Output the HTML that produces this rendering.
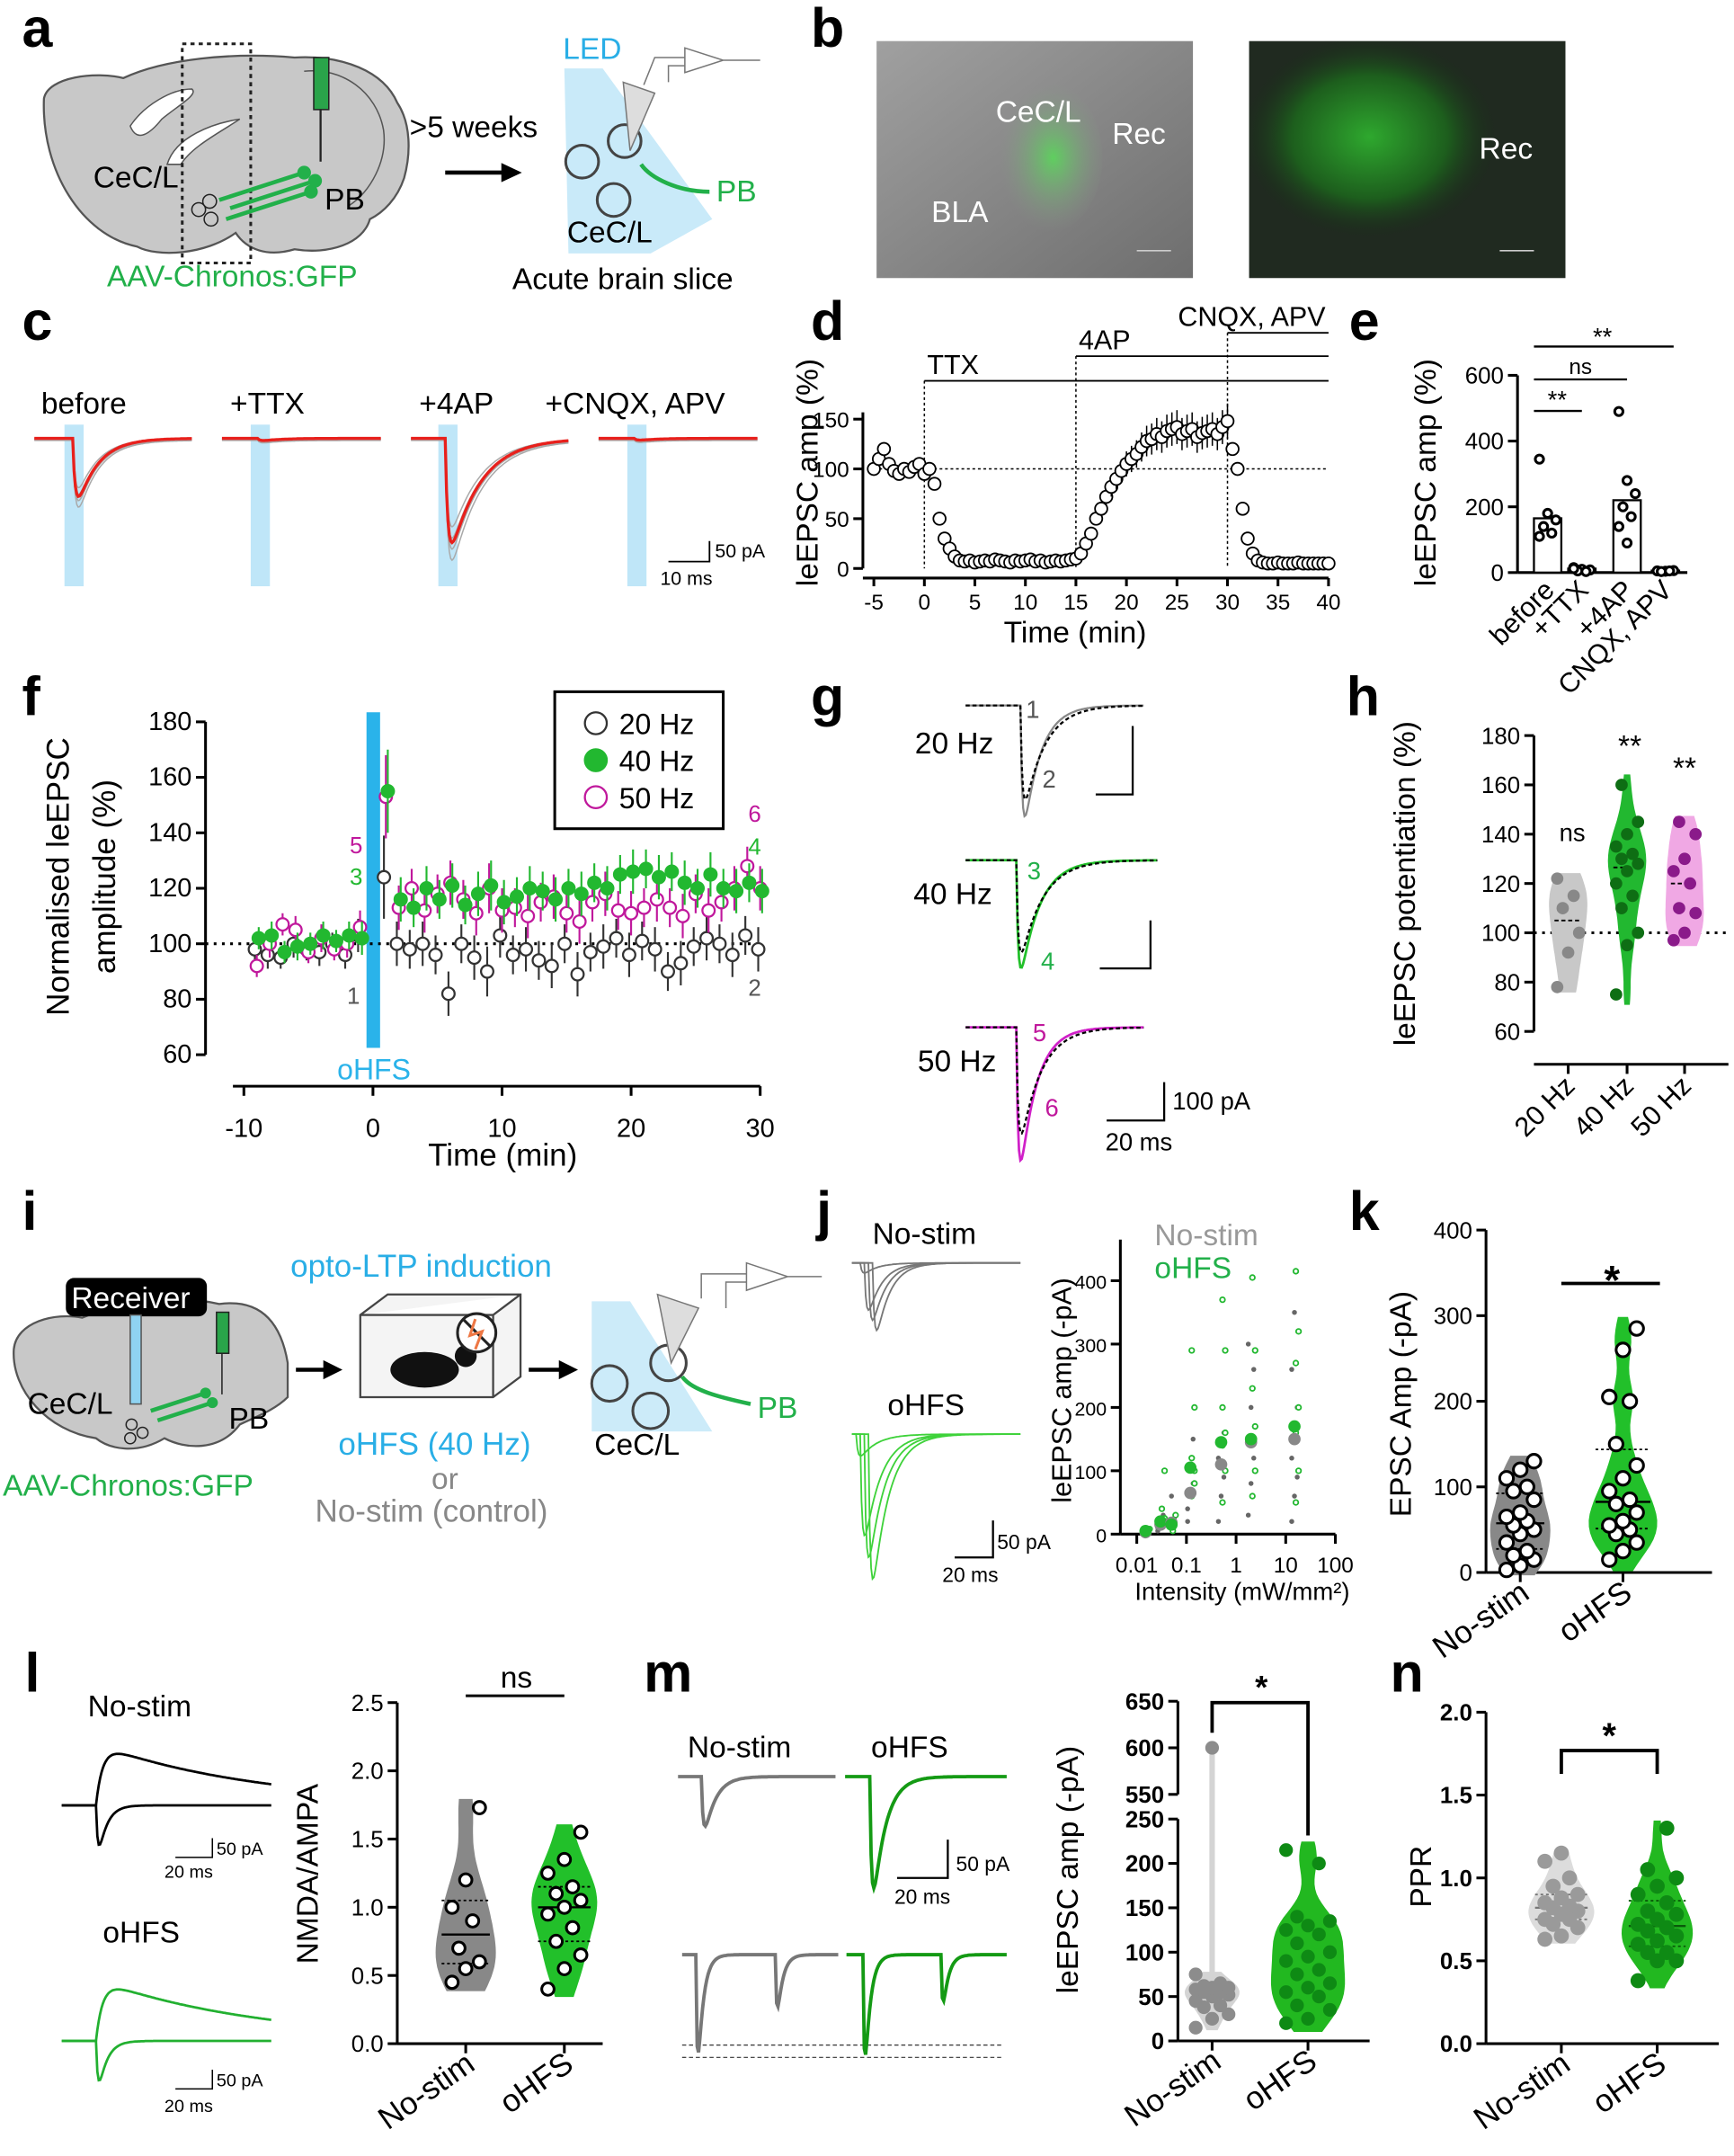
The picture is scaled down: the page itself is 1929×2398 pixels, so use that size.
<!DOCTYPE html>
<html><head><meta charset="utf-8"><style>
html,body{margin:0;padding:0;background:#fff}
svg{display:block;font-family:"Liberation Sans",Arial,sans-serif}
.L{font-size:40px;font-weight:bold}
</style></head><body>
<svg id="fig" width="1929" height="2398" viewBox="0 0 1266 1574" xmlns="http://www.w3.org/2000/svg">
<rect width="1266" height="1574" fill="#fff"/>
<g>
<text class="L" x="16" y="34">a</text><text class="L" x="592" y="34">b</text>
<text class="L" x="16" y="248">c</text><text class="L" x="592" y="248">d</text><text class="L" x="985" y="248">e</text>
<text class="L" x="16" y="522">f</text><text class="L" x="592" y="522">g</text><text class="L" x="983" y="522">h</text>
<text class="L" x="16" y="898">i</text><text class="L" x="596" y="898">j</text><text class="L" x="985" y="898">k</text>
<text class="L" x="18" y="1235">l</text><text class="L" x="470" y="1235">m</text><text class="L" x="1015" y="1235">n</text>
</g>
<g>
<path d="M32,72 C35,56 70,52 90,57 C120,43 170,38 215,42 C250,40 280,52 290,75 C300,90 300,112 295,130 C290,145 280,155 270,160 C265,178 240,186 215,182 C195,188 180,182 172,170 C150,186 115,188 100,180 C60,172 30,125 32,72Z" fill="#c8c8c8" stroke="#555" stroke-width="1.5"/>
<path d="M95,92 C105,77 125,65 140,65 C145,69 130,77 118,87 C110,97 100,105 95,92Z" fill="#fff" stroke="#555"/>
<path d="M122,120 C128,100 155,90 175,87 C160,97 140,107 132,120Z" fill="#fff" stroke="#555"/>
<path d="M222,52 C250,49 275,67 280,95 C283,118 270,140 255,150" fill="none" stroke="#555"/>
<rect x="133" y="32" width="50" height="160" fill="none" stroke="#222" stroke-width="2" stroke-dasharray="3,3"/>
<rect x="229" y="42" width="11" height="38" fill="#2aa44a" stroke="#222"/>
<line x1="234" y1="80" x2="234" y2="118" stroke="#222" stroke-width="1.5"/>
<line x1="160" y1="146" x2="222" y2="126" stroke="#22b04a" stroke-width="3"/>
<line x1="168" y1="152" x2="230" y2="132" stroke="#22b04a" stroke-width="3"/>
<line x1="165" y1="160" x2="227" y2="140" stroke="#22b04a" stroke-width="3"/>
<circle cx="222" cy="126" r="5" fill="#22b04a"/><circle cx="230" cy="132" r="5" fill="#22b04a"/><circle cx="227" cy="140" r="5" fill="#22b04a"/>
<circle cx="145" cy="153" r="5" fill="none" stroke="#222"/><circle cx="153" cy="147" r="5" fill="none" stroke="#222"/><circle cx="154" cy="160" r="5" fill="none" stroke="#222"/>
<text x="68" y="137" font-size="22">CeC/L</text><text x="237" y="153" font-size="22">PB</text>
<text x="78" y="209" font-size="22" fill="#22b04a">AAV-Chronos:GFP</text>
<text x="299" y="100" font-size="22">&gt;5 weeks</text>
<line x1="325" y1="126" x2="368" y2="126" stroke="#000" stroke-width="3"/><path d="M366,119 L381,126 L366,133Z" fill="#000"/>
<text x="411" y="43" font-size="22" fill="#29aee6">LED</text>
<path d="M412,50 L440,50 L520,160 L475,185 L415,185Z" fill="#bfe6f8" opacity="0.85"/>
<circle cx="425" cy="118" r="12" fill="none" stroke="#444" stroke-width="2"/><circle cx="456" cy="103" r="12" fill="none" stroke="#444" stroke-width="2"/><circle cx="448" cy="146" r="12" fill="none" stroke="#444" stroke-width="2"/>
<path d="M455,60 L478,68 L460,110Z" fill="#ddd" stroke="#777"/>
<path d="M470,62 L478,42 L500,42 M500,35 L528,44 L500,53Z M528,44 L555,44 M500,48 L488,48 L488,60" fill="none" stroke="#777"/>
<path d="M518,140 C495,140 475,130 468,120" fill="none" stroke="#22b04a" stroke-width="3"/>
<text x="523" y="147" font-size="22" fill="#22b04a">PB</text>
<text x="414" y="177" font-size="22">CeC/L</text>
<text x="374" y="211" font-size="22">Acute brain slice</text>
</g>
<g>
<defs>
<radialGradient id="g1" cx="0.55" cy="0.5" r="0.5"><stop offset="0" stop-color="#5fcf5f"/><stop offset="1" stop-color="#8a948a" stop-opacity="0"/></radialGradient>
<radialGradient id="g2" cx="0.5" cy="0.5" r="0.5"><stop offset="0" stop-color="#2ea82e"/><stop offset="0.6" stop-color="#1d5e1d"/><stop offset="1" stop-color="#1a2a1a" stop-opacity="0"/></radialGradient>
<linearGradient id="gb" x1="0" y1="0" x2="1" y2="1"><stop offset="0" stop-color="#a0a0a0"/><stop offset="1" stop-color="#6e6e6e"/></linearGradient>
<clipPath id="cb2"><rect x="912" y="30" width="231" height="173"/></clipPath>
</defs>
<rect x="640" y="30" width="231" height="173" fill="url(#gb)"/>
<ellipse cx="765" cy="115" rx="40" ry="55" fill="url(#g1)"/>
<text x="727" y="89" font-size="22" fill="#fff">CeC/L</text><text x="812" y="105" font-size="22" fill="#fff">Rec</text><text x="680" y="162" font-size="22" fill="#fff">BLA</text>
<line x1="830" y1="183" x2="855" y2="183" stroke="#ccc"/>
<rect x="912" y="30" width="231" height="173" fill="#202a20"/>
<ellipse cx="1000" cy="100" rx="95" ry="75" fill="url(#g2)" clip-path="url(#cb2)"/>
<text x="1080" y="116" font-size="22" fill="#fff">Rec</text>
<line x1="1095" y1="183" x2="1120" y2="183" stroke="#ccc"/>
</g>
<g id="pc">
<rect x="47" y="310" width="14" height="118" fill="#bfe6f8"/><rect x="183" y="310" width="14" height="118" fill="#bfe6f8"/>
<rect x="320" y="310" width="14" height="118" fill="#bfe6f8"/><rect x="458" y="310" width="14" height="118" fill="#bfe6f8"/>
<text x="30" y="302" font-size="22">before</text><text x="168" y="302" font-size="22">+TTX</text><text x="306" y="302" font-size="22">+4AP</text><text x="398" y="302" font-size="22">+CNQX, APV</text>
<path d="M488,410 L518,410 L518,395" fill="none" stroke="#000" stroke-width="1.2"/>
<text x="522" y="407" font-size="14">50 pA</text><text x="482" y="427" font-size="14">10 ms</text>
</g>
<g id="pg">
<text x="668" y="550" font-size="22">20 Hz</text><text x="667" y="660" font-size="22">40 Hz</text><text x="670" y="782" font-size="22">50 Hz</text>
<text x="749" y="524" font-size="18" fill="#555">1</text><text x="761" y="575" font-size="18" fill="#555">2</text>
<text x="750" y="642" font-size="18" fill="#22b04a">3</text><text x="760" y="708" font-size="18" fill="#22b04a">4</text>
<text x="754" y="760" font-size="18" fill="#c0189c">5</text><text x="763" y="815" font-size="18" fill="#c0189c">6</text>
<path d="M800,580 L827,580 L827,530" fill="none" stroke="#000" stroke-width="1.5"/>
<path d="M803,707 L840,707 L840,672" fill="none" stroke="#000" stroke-width="1.5"/>
<path d="M808,818 L850,818 L850,790" fill="none" stroke="#000" stroke-width="1.5"/>
<text x="856" y="810" font-size="18">100 pA</text><text x="807" y="840" font-size="18">20 ms</text>
</g>
<g>
<path d="M10,985 C12,965 40,958 60,962 C90,950 130,945 160,952 C190,948 205,965 210,995 L210,1020 C200,1030 185,1035 175,1040 C160,1060 135,1058 120,1050 C100,1062 80,1058 70,1050 C35,1045 8,1015 10,985Z" fill="#c8c8c8" stroke="#555" stroke-width="1.5"/>
<rect x="48" y="933" width="103" height="28" rx="6" fill="#000"/><text x="52" y="955" font-size="22" fill="#fff">Receiver</text>
<rect x="95" y="960" width="8" height="65" fill="#8fd3f2" stroke="#555"/>
<rect x="158" y="958" width="9" height="30" fill="#2aa44a" stroke="#222"/><line x1="162" y1="988" x2="162" y2="1018" stroke="#222"/>
<line x1="110" y1="1030" x2="150" y2="1017" stroke="#22b04a" stroke-width="3"/><line x1="115" y1="1037" x2="155" y2="1024" stroke="#22b04a" stroke-width="3"/>
<circle cx="150" cy="1017" r="4" fill="#22b04a"/><circle cx="155" cy="1024" r="4" fill="#22b04a"/>
<circle cx="96" cy="1040" r="4" fill="none" stroke="#222"/><circle cx="104" cy="1046" r="4" fill="none" stroke="#222"/><circle cx="95" cy="1050" r="4" fill="none" stroke="#222"/>
<text x="20" y="1032" font-size="22">CeC/L</text><text x="167" y="1043" font-size="22">PB</text>
<text x="2" y="1092" font-size="22" fill="#22b04a">AAV-Chronos:GFP</text>
<line x1="216" y1="1000" x2="238" y2="1000" stroke="#000" stroke-width="3"/><path d="M236,993 L250,1000 L236,1007Z" fill="#000"/>
<text x="212" y="932" font-size="23" fill="#29aee6">opto-LTP induction</text>
<path d="M263,960 L283,945 L380,945 L380,1005 L360,1020 L263,1020Z M263,960 L360,960 L380,945 M360,960 L360,1020" fill="#f4f4f4" stroke="#444" stroke-width="1.5"/>
<ellipse cx="310" cy="1000" rx="25" ry="13" fill="#111"/><circle cx="340" cy="990" r="8" fill="#111"/>
<circle cx="348" cy="973" r="14" fill="#fff" stroke="#222" stroke-width="2"/><line x1="338" y1="963" x2="358" y2="983" stroke="#222" stroke-width="2"/><path d="M347,963 L343,975 L352,972 L347,985" fill="none" stroke="#e74" stroke-width="2"/>
<text x="247" y="1062" font-size="23" fill="#29aee6">oHFS (40 Hz)</text><text x="315" y="1087" font-size="22" fill="#888">or</text>
<text x="230" y="1111" font-size="23" fill="#888">No-stim (control)</text>
<line x1="386" y1="1000" x2="410" y2="1000" stroke="#000" stroke-width="3"/><path d="M408,993 L422,1000 L408,1007Z" fill="#000"/>
<path d="M432,950 L460,950 L520,1045 L432,1045Z" fill="#bfe6f8" opacity="0.8"/>
<circle cx="445" cy="1010" r="13" fill="none" stroke="#444" stroke-width="2"/><circle cx="488" cy="995" r="13" fill="none" stroke="#444" stroke-width="2"/><circle cx="475" cy="1030" r="13" fill="none" stroke="#444" stroke-width="2"/>
<path d="M480,945 L510,955 L490,995Z" fill="#ddd" stroke="#777"/>
<path d="M512,948 L512,930 L545,930 M545,922 L575,932 L545,942Z M575,932 L600,932 M545,936 L530,936 L530,955" fill="none" stroke="#777"/>
<path d="M548,1025 C525,1020 505,1015 498,1005" fill="none" stroke="#22b04a" stroke-width="3"/>
<text x="553" y="1035" font-size="22" fill="#22b04a">PB</text><text x="434" y="1062" font-size="22">CeC/L</text>
</g>
<g id="pj">
<text x="637" y="908" font-size="22">No-stim</text><text x="648" y="1033" font-size="22">oHFS</text>
<path d="M697,1137 L725,1137 L725,1110" fill="none" stroke="#000" stroke-width="1.5"/>
<text x="728" y="1131" font-size="15">50 pA</text><text x="688" y="1155" font-size="15">20 ms</text>
<text x="843" y="909" font-size="22" fill="#999">No-stim</text><text x="843" y="933" font-size="22" fill="#22b04a">oHFS</text>
</g>
<g id="pl">
<text x="64" y="1253" font-size="22">No-stim</text><text x="75" y="1418" font-size="22">oHFS</text>
<path d="M128,1356 L155,1356 L155,1342" fill="none" stroke="#000"/><text x="158" y="1354" font-size="13">50 pA</text><text x="120" y="1371" font-size="13">20 ms</text>
<path d="M128,1525 L155,1525 L155,1511" fill="none" stroke="#000"/><text x="158" y="1523" font-size="13">50 pA</text><text x="120" y="1542" font-size="13">20 ms</text>
</g>
<g id="pm">
<text x="502" y="1283" font-size="22">No-stim</text><text x="636" y="1283" font-size="22">oHFS</text>
<path d="M655,1371 L692,1371 L692,1343" fill="none" stroke="#000" stroke-width="1.5"/>
<text x="698" y="1366" font-size="15">50 pA</text><text x="653" y="1390" font-size="15">20 ms</text>
<line x1="498" y1="1493" x2="733" y2="1493" stroke="#333" stroke-dasharray="3,2" stroke-width="0.8"/>
<line x1="498" y1="1502" x2="733" y2="1502" stroke="#333" stroke-dasharray="3,2" stroke-width="0.8"/>
</g>
<g id="charts"></g>
</svg>
<script>
const dValues=[100,110,120,105,98,95,100,97,102,105,95,100,85,50,30,20,12,
8,7,8,6,7,8,7,9,8,7,6,8,7,8,9,7,8,6,7,8,7,8,9,
10,15,25,35,50,60,72,82,90,98,105,110,115,122,128,130,135,132,138,140,142,135,138,140,132,136,138,140,135,142,148,120,100,60,30,15,8,
6,5,5,6,5,5,5,6,5,5,5,5,5,5];
const dStart=-5, dStep=0.5;
const dTicksX=[-5,0,5,10,15,20,25,30,35,40];
const dTicksY=[0,50,100,150];
const eCats=["before","+TTX","+4AP","CNQX, APV"];
const eMeans=[165,12,220,6];
const ePoints=[[345,180,160,140,120,110],[15,10,8,5,3,12],[490,280,240,200,170,140,90],[5,4,6,3,5]];
const eTicks=[0,200,400,600];
const fTimes=[-9,-8,-7,-6,-5,-4,-3,-2,-1,1,2,3,4,5,6,7,8,9,10,11,12,13,14,15,16,17,18,19,20,21,22,23,24,25,26,27,28,29,30];
const f20=[98,96,95,100,98,97,100,96,103,124,100,98,100,96,82,100,95,90,103,96,98,94,92,100,89,97,99,102,96,101,98,90,93,99,102,100,96,103,98];
const f40=[102,103,97,99,100,103,101,103,102,155,116,113,120,116,121,114,118,121,115,117,120,119,116,120,118,122,120,125,126,127,124,126,122,120,125,120,119,122,119];
const f50=[92,100,107,105,97,102,98,100,106,153,113,120,112,118,122,116,111,120,112,113,110,115,117,111,108,115,118,112,111,113,116,113,110,118,112,115,120,128,120];
const fErr=[4,5,4,5,4,5,4,5,6,15,8,7,8,7,8,7,8,9,8,7,8,7,8,7,8,7,8,7,8,7,8,7,8,7,8,7,8,7,8];
const fTicksX=[-10,0,10,20,30];
const fTicksY=[60,80,100,120,140,160,180];
const hCats=["20 Hz","40 Hz","50 Hz"];
const h20=[78,92,100,110,115,122];
const h40=[75,95,100,110,115,120,125,128,130,132,135,140,145,160];
const h50=[97,100,108,110,120,125,130,140,145];
const hTicks=[60,80,100,120,140,160,180];
const jIntens=[0.015,0.03,0.05,0.12,0.5,2,15];
const jGray=[[3,5,2],[10,20,30,5],[15,60,25],[40,60,80,20,100,150],[20,60,90,120,140,160,110],[30,80,120,150,200,260,300,140],[20,60,90,120,150,200,260,350]];
const jGreen=[[5,8,2],[15,25,40,100],[10,30,5],[60,100,120,200,290,80],[50,100,140,160,200,290,370],[60,100,150,170,230,290,405],[50,100,160,200,270,320,415]];
const jGrayMean=[3,15,18,65,110,145,150];
const jGreenMean=[5,20,15,105,145,150,170];
const kNo=[3,8,15,20,25,35,45,50,55,60,65,70,85,95,100,110,120,130];
const kO=[15,25,35,45,50,55,60,70,80,85,95,110,125,150,200,205,260,285];
const kTicks=[0,100,200,300,400];
const lNo=[0.45,0.55,0.6,0.7,0.9,1.0,1.2,1.73];
const lO=[0.4,0.55,0.65,0.75,0.85,0.95,1.0,1.05,1.1,1.15,1.25,1.35,1.55];
const lTicks=[0.0,0.5,1.0,1.5,2.0,2.5];
const mNo=[15,25,30,38,40,45,50,52,55,55,58,60,60,62,65,75,600];
const mO=[20,25,35,40,50,55,60,65,75,80,90,95,100,110,120,125,130,135,140,200,215];
const mTicksLow=[0,50,100,150,200,250];
const mTicksHigh=[550,600,650];
const nNo=[0.63,0.65,0.7,0.72,0.75,0.75,0.78,0.8,0.82,0.83,0.85,0.88,0.9,0.95,1.0,1.1,1.15];
const nO=[0.38,0.5,0.5,0.55,0.55,0.6,0.62,0.65,0.68,0.7,0.72,0.75,0.78,0.8,0.85,0.9,0.95,1.0,1.05,1.3];
const nTicks=[0.0,0.5,1.0,1.5,2.0];

const NS="http://www.w3.org/2000/svg";
const root=document.getElementById('charts');
function mk(tag,attrs,parent){const e=document.createElementNS(NS,tag);for(const k in attrs)e.setAttribute(k,attrs[k]);(parent||root).appendChild(e);return e;}
function txt(s,x,y,size,anchor,parent,rot,fill,weight){const t=mk('text',{x:x,y:y,'font-size':size,'text-anchor':anchor||'start',fill:fill||'#000'},parent);if(weight)t.setAttribute('font-weight',weight);if(rot)t.setAttribute('transform','rotate('+rot+' '+x+' '+y+')');t.textContent=s;return t;}
function line(x1,y1,x2,y2,parent,w,col,dash){const l=mk('line',{x1,y1,x2,y2,stroke:col||'#000','stroke-width':w||2},parent);if(dash)l.setAttribute('stroke-dasharray',dash);return l;}
function lin(d0,d1,p0,p1){return v=>p0+(v-d0)*(p1-p0)/(d1-d0);}
function yAxis(g,x,y0,y1,ticks,sc,size,fmt){const a=line(x,y0,x,y1,g,2);
 ticks.forEach(t=>{line(x-7,sc(t),x,sc(t),g,2);const l=txt(fmt?fmt(t):String(t),x-10,sc(t)+6,size||17,'end',g);});}
function trace(x0,x1,y0,xd,amp,rise,decay){let d='';for(let x=x0;x<=x1;x+=1){let y=y0;if(x>xd){const t=x-xd;y=y0+amp*(1-Math.exp(-t/rise))*Math.exp(-t/decay)*1.6;}d+=(d?'L':'M')+x+','+y.toFixed(1);}return d;}
function path(d,parent,col,w,dash){const p=mk('path',{d:d,fill:'none',stroke:col,'stroke-width':w||1.5},parent);if(dash)p.setAttribute('stroke-dasharray',dash);return p;}
function violin(g,vals,cx,sc,hw,fill,stroke,bw){const lo=Math.min(...vals),hi=Math.max(...vals);const ext=(hi-lo)*0.05;const N=40;const pts=[];let maxd=0;
 for(let i=0;i<=N;i++){const v=lo-ext+(hi-lo+2*ext)*i/N;let dsum=0;vals.forEach(u=>{dsum+=Math.exp(-0.5*((v-u)/bw)**2);});pts.push([v,dsum]);if(dsum>maxd)maxd=dsum;}
 let d='';pts.forEach(p=>{d+=(d?'L':'M')+(cx+hw*p[1]/maxd).toFixed(1)+','+sc(p[0]).toFixed(1);});
 for(let i=pts.length-1;i>=0;i--){d+='L'+(cx-hw*pts[i][1]/maxd).toFixed(1)+','+sc(pts[i][0]).toFixed(1);}
 const p=mk('path',{d:d+'Z',fill:fill,stroke:stroke||'none','stroke-width':1},g);return p;}
function quart(vals,q){const s=[...vals].sort((a,b)=>a-b);const i=(s.length-1)*q;const l=Math.floor(i);return s[l]+(s[Math.ceil(i)]-s[l])*(i-l);}
function jitterDots(g,vals,cx,sc,r,fill,stroke,spread){vals.forEach((v,i)=>{const off=((i*7)%5-2)*spread;const c=mk('circle',{cx:cx+off,cy:sc(v),r:r,fill:fill,stroke:stroke||'none','stroke-width':2},g);});}

(function(){const g=document.getElementById('pc');const grp=[[25,140,50,40],[162,278,185,1.5],[300,415,322,65],[437,553,460,1.2]];
 grp.forEach((p,k)=>{for(let j=0;j<4;j++)path(trace(p[0],p[1],320+j*0.5,p[2]+3,p[3]*(0.85+0.1*j),2,k==2?22:15),g,'#aaa',1);path(trace(p[0],p[1],320,p[2]+3,p[3],2,k==2?22:15),g,'#e8201c',2.2);});})();
(function(){const g=document.getElementById('pg');
 path(trace(705,835,515,745,75,1.5,12),g,'#888',1.5);path(trace(705,835,515,745,60,1.5,15),g,'#000',1.5,'3,2');
 path(trace(705,845,628,742,70,1.5,14),g,'#22c02a',1.8);path(trace(705,845,628,742,58,1.5,16),g,'#000',1.5,'3,2');
 path(trace(705,835,750,742,90,1.5,12),g,'#d020c8',1.8);path(trace(705,835,750,742,68,1.5,15),g,'#000',1.5,'3,2');})();
(function(){const g=document.getElementById('pj');[0.15,0.7,0.85,1].forEach((a,i)=>path(trace(622,745,922,628+i*3,48*a,1.5,10),g,'#777',1.2));
 [0.15,0.7,0.85,1].forEach((a,i)=>path(trace(622,745,1047,625+i*3,98*a,1.5,12),g,'#3ed23a',1.2));})();
(function(){const g=document.getElementById('pl');
 function nm(y0,col){path(trace(45,198,y0,70,-28,5,120),g,col,1.8);path(trace(45,198,y0,70,34,1.5,6),g,col,1.8);}
 nm(1318,'#000');nm(1490,'#22b030');})();
(function(){const g=document.getElementById('pm');
 path(trace(495,610,1297,512,38,1.5,8),g,'#777',2.5);path(trace(617,735,1297,635,82,1.5,9),g,'#149a14',2.5);
 let d=trace(498,560,1427,508,85,1,4)+trace(560,612,1427,566,45,1,4).replace('M','L');path(d,g,'#777',2.5);
 d=trace(618,683,1427,630,87,1,4)+trace(683,735,1427,687,40,1,4).replace('M','L');path(d,g,'#149a14',2.5);})();

(function(){const g=mk('g',{});
 const X=lin(-5,40,638,970),Y=lin(0,150,415,306);
 yAxis(g,630,306-5,415,dTicksY,Y,16);line(630,422,970,422,g,2);
 dTicksX.forEach(t=>{line(X(t),422,X(t),428,g,2);const l=txt(String(t),X(t),445,16,'middle',g);});
 const xt=txt('Time (min)',785,469,22,'middle',g);
 const yt=txt('leEPSC amp (%)',597,345,22,'middle',g,-90);
 line(638,Y(100),970,Y(100),g,1,'#000','2,2');
 line(X(0),278,970,278,g,1.2);line(X(0),278,X(0),415,g,1,'#000','2,2');txt('TTX',X(0)+2,273,20,'start',g);
 line(X(15),260,970,260,g,1.2);line(X(15),260,X(15),415,g,1,'#000','2,2');txt('4AP',X(15)+2,255,20,'start',g);
 line(X(30),243,970,243,g,1.2);line(X(30),243,X(30),415,g,1,'#000','2,2');txt('CNQX, APV',860,238,20,'start',g);
 dValues.forEach((v,i)=>{const t=dStart+i*dStep;if(t>=15&&t<=30){line(X(t),Y(v+v*0.12),X(t),Y(v-v*0.12),g,1);}
  const c=mk('circle',{cx:X(t),cy:Y(v),r:4.5,fill:'#fff',stroke:'#000','stroke-width':1.2},g);});})();

(function(){const g=mk('g',{});
 const Y=lin(0,600,418,274);const xs=[1130,1155,1188,1216];
 yAxis(g,1108,274,418,eTicks,Y,17);line(1108,418,1232,418,g,2);
 const yt=txt('leEPSC amp (%)',1048,345,22,'middle',g,-90);
 eMeans.forEach((m,i)=>{const b=mk('rect',{x:xs[i]-10,y:Y(m),width:20,height:418-Y(m),fill:'#fff',stroke:'#000','stroke-width':1.5},g);
  jitterDots(g,ePoints[i],xs[i],Y,3,'#fff','#000',3);
  const l=txt(eCats[i],xs[i]+6,432,20,'end',g,-45);});
 line(1120,253,1222,253,g,1.5);txt('**',1170,252,18,'middle',g);
 line(1120,277,1188,277,g,1.5);txt('ns',1154,273,16,'middle',g);
 line(1120,300,1155,300,g,1.5);txt('**',1137,298,18,'middle',g);})();

(function(){const g=mk('g',{});
 const X=lin(-10,30,178,555),Y=lin(60,180,770,527);
 mk('rect',{x:X(-0.5),y:520,width:X(0.5)-X(-0.5)+0.5,height:245,fill:'#2ab3ea'},g);
 yAxis(g,150,527,770,fTicksY,Y,19);line(170,793,555,793,g,2);
 fTicksX.forEach(t=>{line(X(t),793,X(t),800,g,2);const l=txt(String(t),X(t),830,19,'middle',g);});
 txt('Time (min)',367,851,23,'middle',g);
 txt('Normalised leEPSC',50,640,23,'middle',g,-90);txt('amplitude (%)',84,640,23,'middle',g,-90);
 line(150,Y(100),555,Y(100),g,2,'#000','2,4');
 txt('oHFS',273,788,21,'middle',g,0,'#2ab3ea');
 const ser=[[f20,'#fff','#333'],[f50,'#fff','#c0189c'],[f40,'#22b830','#22b830']];
 ser.forEach((s,k)=>{s[0].forEach((v,i)=>{const t=fTimes[i]+(k-1)*0.15;line(X(t),Y(v+fErr[i]),X(t),Y(v-fErr[i]),g,1.4,s[2]);
  const c=mk('circle',{cx:X(t),cy:Y(v),r:4.5,fill:s[1],stroke:s[2],'stroke-width':1.5},g);});});
 txt('5',260,623,17,'middle',g,0,'#c0189c');txt('3',260,646,17,'middle',g,0,'#22b830');txt('1',258,733,17,'middle',g,0,'#555');
 txt('6',551,600,17,'middle',g,0,'#c0189c');txt('4',551,624,17,'middle',g,0,'#22b830');txt('2',551,727,17,'middle',g,0,'#555');
 const lg=mk('g',{},g);
 mk('rect',{x:405,y:505,width:123,height:100,fill:'#fff',stroke:'#000','stroke-width':2},lg);
 [['20 Hz','#fff','#333'],['40 Hz','#22b830','#22b830'],['50 Hz','#fff','#c0189c']].forEach((e,i)=>{const c=mk('circle',{cx:435,cy:528+i*27,r:8,fill:e[1],stroke:e[2],'stroke-width':1.5},lg);txt(e[0],452,536+i*27,21,'start',lg);});})();

(function(){const g=mk('g',{});
 const Y=lin(60,180,753,537);const xs=[1145,1188,1230];
 yAxis(g,1120,537,753,hTicks,Y,17);line(1120,777,1262,777,g,2);line(1120,Y(100),1262,Y(100),g,2,'#000','2,4');
 txt('leEPSC potentiation (%)',1033,645,22,'middle',g,-90);
 const vs=[[h20,'#c8c8c8','#888'],[h40,'#22b830','#0e6e14'],[h50,'#f0a8e4','#8a1a8a']];
 vs.forEach((v,i)=>{violin(g,v[0],xs[i],Y,14,v[1],null,9);line(xs[i]-10,Y(quart(v[0],0.5)),xs[i]+10,Y(quart(v[0],0.5)),g,1.2,'#000','3,2');
  jitterDots(g,v[0],xs[i],Y,4.5,v[2],null,4);line(xs[i],777,xs[i],784,g,2);
  txt(hCats[i],xs[i]+6,794,20,'end',g,-45);});
 txt('ns',1148,614,18,'middle',g);txt('**',1190,552,22,'middle',g);txt('**',1230,568,22,'middle',g);})();

(function(){const g=mk('g',{});
 const X=v=>lin(-2,2,830,975)(Math.log10(v)),Y=lin(0,400,1120,935);
 yAxis(g,818,905,1120,[0,100,200,300,400],Y,14);line(818,1120,975,1120,g,2);
 [0.01,0.1,1,10,100].forEach(t=>{line(X(t),1120,X(t),1127,g,2);const l=txt(String(t),X(t),1148,16,'middle',g);});
 txt('Intensity (mW/mm²)',907,1168,18,'middle',g);txt('leEPSC amp (-pA)',782,1015,20,'middle',g,-90);
 jIntens.forEach((I,i)=>{const x=X(I);jGray[i].forEach((v,k)=>{const c=mk('circle',{cx:x-2+(k%3)*2,cy:Y(v),r:1.8,fill:'#666'},g);});
  jGreen[i].forEach((v,k)=>{const c=mk('circle',{cx:x+1+(k%2)*2,cy:Y(v),r:1.8,fill:'#fff',stroke:'#22b830','stroke-width':1.2},g);});
  const a=mk('circle',{cx:x,cy:Y(jGrayMean[i]),r:4.5,fill:'#888'},g);
  const b=mk('circle',{cx:x,cy:Y(jGreenMean[i]),r:4.5,fill:'#22b830'},g);});})();

function vpanel(name,axX,axRight,xs,Y,ticks,yTop,yBot,data,ylab,ylabX,ylabY,fmt,fs){const g=mk('g',{});
 yAxis(g,axX,yTop,yBot,ticks,Y,fs||17,fmt);line(axX,yBot,axRight,yBot,g,2);
 txt(ylab,ylabX,ylabY,22,'middle',g,-90);
 data.forEach((d,i)=>{violin(g,d.v,xs[i],Y,d.hw,d.fill,null,d.bw);
  [0.25,0.5,0.75].forEach(q=>line(xs[i]-d.hw*0.8,Y(quart(d.v,q)),xs[i]+d.hw*0.8,Y(quart(d.v,q)),g,q==0.5?1.5:1.2,d.ql,q==0.5?null:'2,2'));
  jitterDots(g,d.v,xs[i],Y,d.r,d.pf,d.ps,d.sp);line(xs[i],yBot,xs[i],yBot+7,g,2);
  txt(['No-stim','oHFS'][i],xs[i]+8,yBot+18,23,'end',g,-35);});return g;}
(function(){const Y=lin(0,400,1148,898);const g=vpanel('panel-k-chart',1085,1250,[1110,1185],Y,kTicks,898,1148,
 [{v:kNo,fill:'#888',hw:22,bw:20,ql:'#000',r:5,pf:'#fff',ps:'#000',sp:5},{v:kO,fill:'#22c02a',hw:25,bw:22,ql:'#000',r:5,pf:'#fff',ps:'#000',sp:5}],'EPSC Amp (-pA)',1030,1025);
 line(1140,937,1212,937,g,2.5);txt('*',1177,945,30,'middle',g,0,'#000','bold');})();
(function(){const Y=lin(0,2.5,1492,1243);const g=vpanel('panel-l-chart',290,440,[340,412],Y,lTicks,1243,1492,
 [{v:lNo,fill:'#888',hw:22,bw:0.22,ql:'#000',r:4.5,pf:'#fff',ps:'#000',sp:5},{v:lO,fill:'#22c02a',hw:24,bw:0.18,ql:'#000',r:4.5,pf:'#fff',ps:'#000',sp:6}],'NMDA/AMPA',232,1368,t=>t.toFixed(1));
 line(340,1238,412,1238,g,2);txt('ns',377,1232,22,'middle',g);})();
(function(){const low=lin(0,250,1490,1328),high=lin(550,650,1310,1242);const Y=v=>v>400?high(v):low(v);
 const g=mk('g',{});
 line(860,1242,860,1310,g,2);line(860,1328,860,1490,g,2);line(860,1490,1000,1490,g,2);
 mTicksLow.forEach(t=>{line(853,low(t),860,low(t),g,2);txt(String(t),850,low(t)+6,17,'end',g,0,'#000','bold');});
 mTicksHigh.forEach(t=>{line(853,high(t),860,high(t),g,2);txt(String(t),850,high(t)+6,17,'end',g,0,'#000','bold');});
 txt('leEPSC amp (-pA)',787,1365,22,'middle',g,-90);
 const noLow=mNo.filter(v=>v<400);violin(g,noLow,885,low,20,'#d4d4d4',null,12);line(885,low(Math.max(...noLow)),885,Y(Math.max(...mNo)),g,4,'#d4d4d4');
 violin(g,mO,955,low,27,'#22b820',null,22);
 jitterDots(g,mNo,885,Y,5,'#8c8c8c',null,6);jitterDots(g,mO,955,low,5,'#0e8a14',null,8);
 ['No-stim','oHFS'].forEach((s,i)=>{line([885,955][i],1490,[885,955][i],1497,g,2);txt(s,[885,955][i]+8,1508,23,'end',g,-35);});
 const b=mk('path',{d:'M885,1265 L885,1243 L955,1243 L955,1340',fill:'none',stroke:'#000','stroke-width':2.5},g);
 txt('*',921,1240,24,'middle',g,0,'#000','bold');})();
(function(){const Y=lin(0,2.0,1492,1250);const g=vpanel('panel-n-chart',1085,1255,[1140,1210],Y,nTicks,1250,1492,
 [{v:nNo,fill:'#dcdcdc',hw:24,bw:0.1,ql:'#777',r:5.5,pf:'#9a9a9a',ps:null,sp:6},{v:nO,fill:'#22b820',hw:26,bw:0.11,ql:'#0a5a0a',r:5.5,pf:'#0e8a14',ps:null,sp:7}],'PPR',1045,1370,t=>t.toFixed(1));
 g.querySelectorAll('text').forEach(t=>{if(/^\d\.\d$/.test(t.textContent))t.setAttribute('font-weight','bold');});
 const b=mk('path',{d:'M1140,1295 L1140,1278 L1210,1278 L1210,1295',fill:'none',stroke:'#000','stroke-width':2.5},g);
 txt('*',1175,1276,26,'middle',g,0,'#000','bold');})();
</script>
</body></html>
